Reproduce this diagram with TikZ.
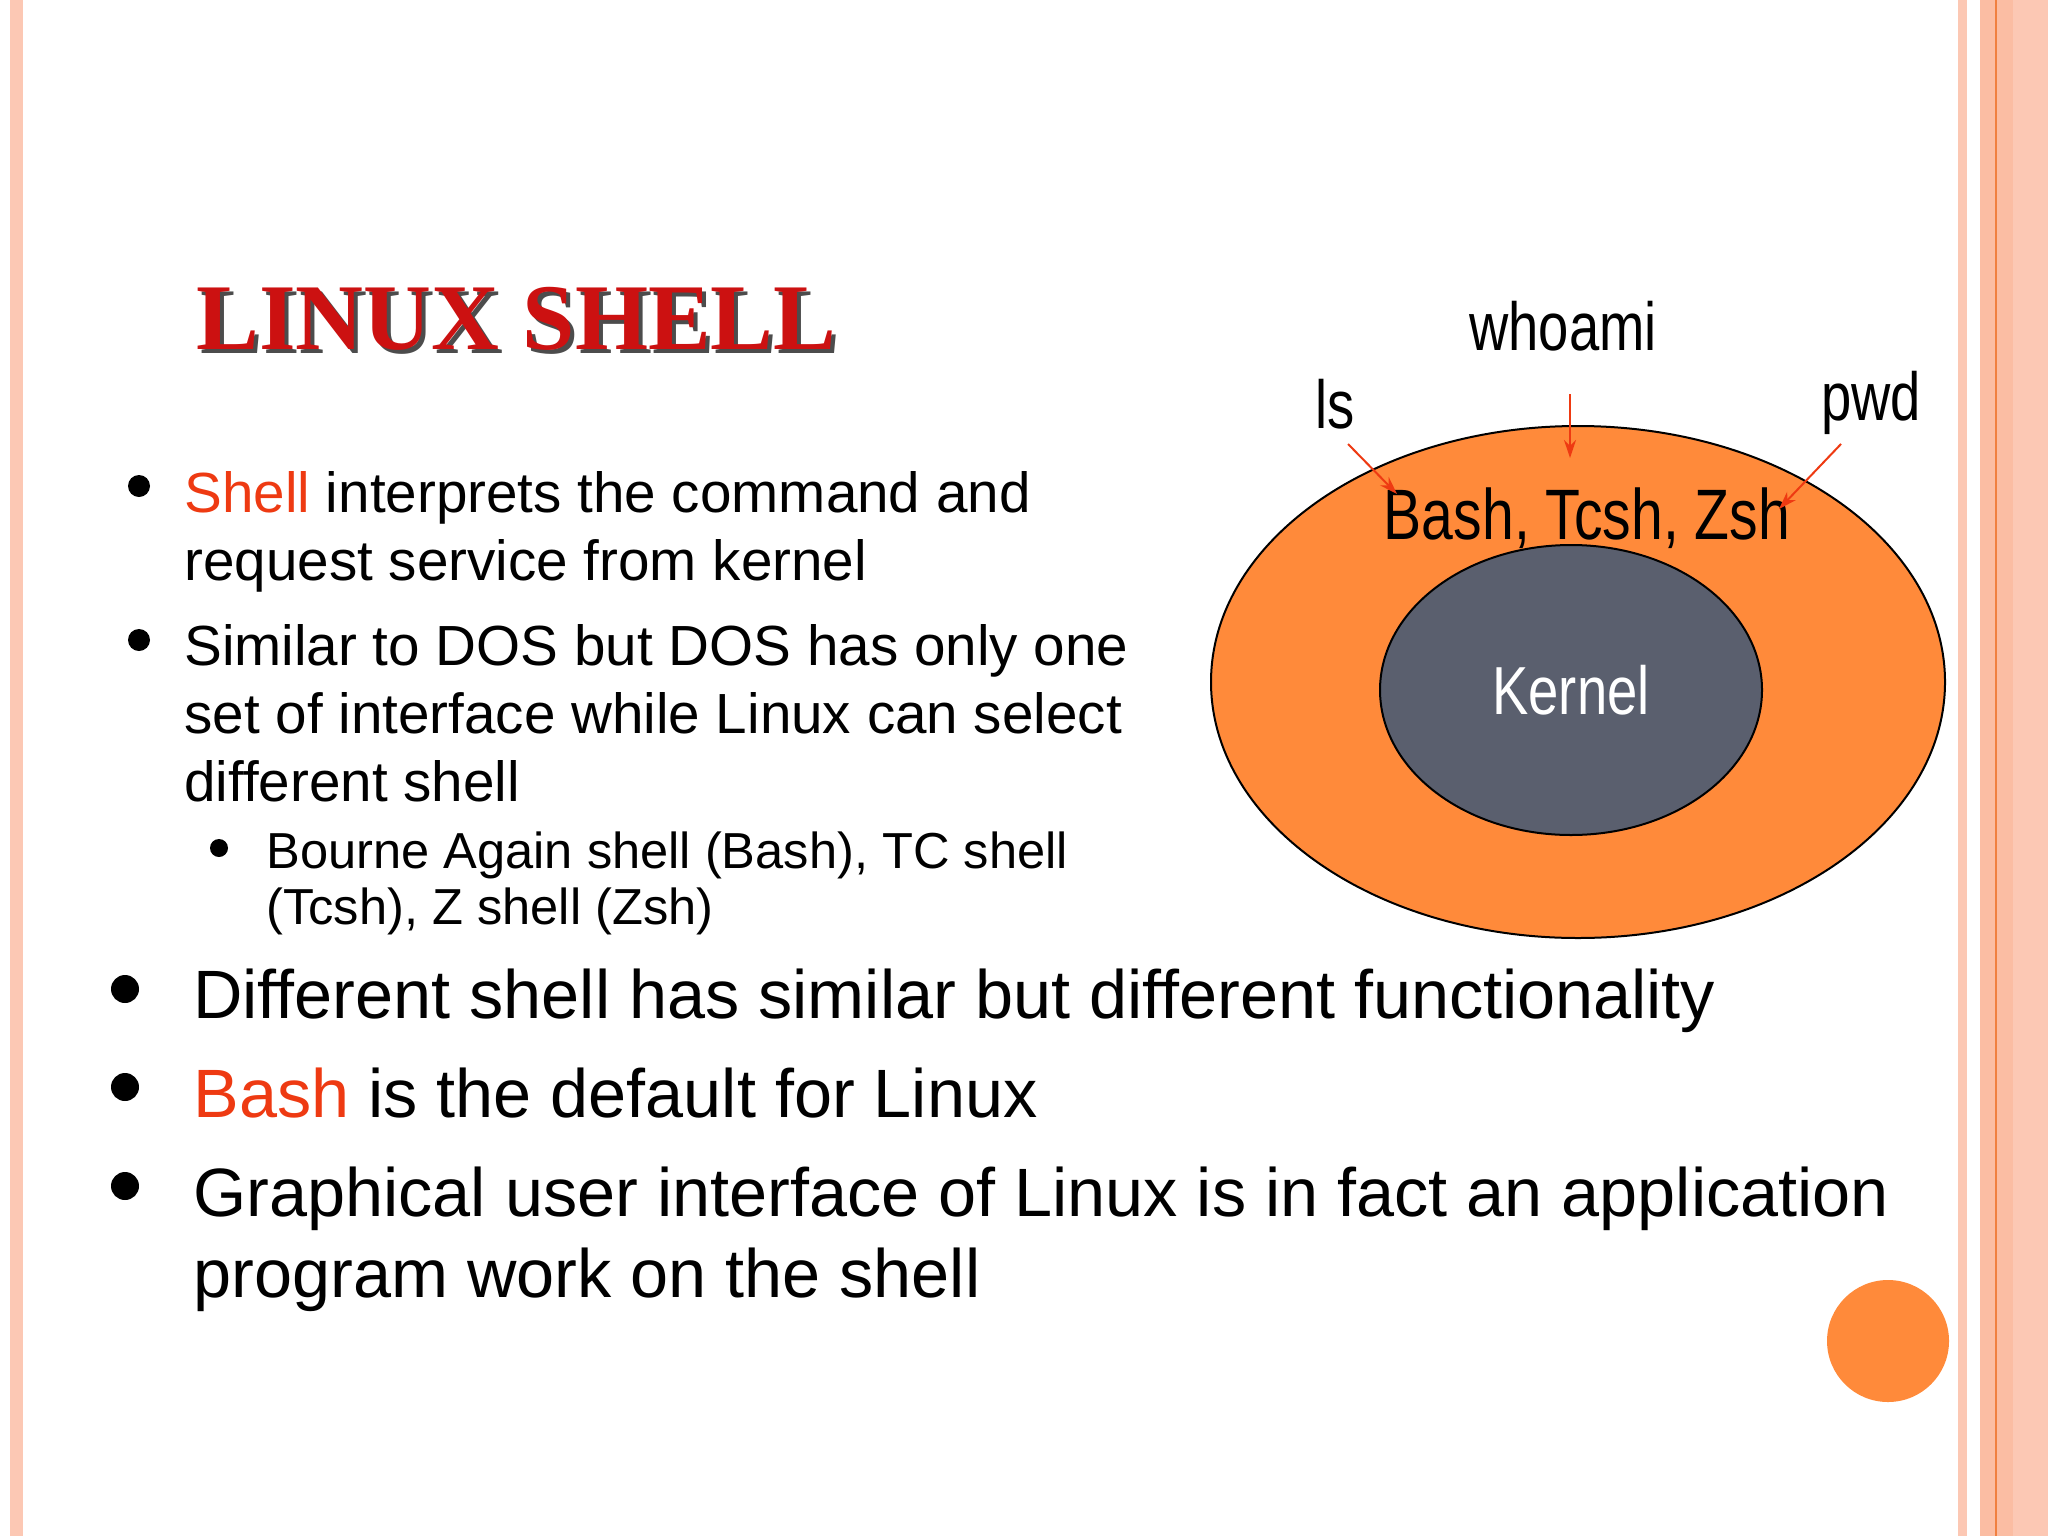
\documentclass[tikz,border=0pt]{standalone}
\usetikzlibrary{shapes.geometric,arrows.meta}
\usepackage{fontspec}
\setmainfont{Liberation Sans}
\newfontfamily\titlefont{Liberation Serif}
\newfontfamily\narrow[FakeStretch=0.8]{Liberation Sans}
\definecolor{pale}{HTML}{FCC8B4}
\definecolor{palemid}{HTML}{FBBDA3}
\definecolor{oline}{HTML}{F08040}
\definecolor{shellor}{HTML}{FF8A3A}
\definecolor{kern}{HTML}{5A5F6E}
\definecolor{redt}{HTML}{EE3A12}
\definecolor{titred}{HTML}{CC1111}
\begin{document}
\begin{tikzpicture}[x=0.5pt,y=-0.5pt,
  body/.style={anchor=base west,inner sep=0,font=\fontsize{28.3pt}{34pt}\selectfont},
  big/.style={anchor=base west,inner sep=0,font=\fontsize{34.2pt}{40pt}\selectfont},
  sub/.style={anchor=base west,inner sep=0,font=\fontsize{25.3pt}{28pt}\selectfont},
  cmd/.style={anchor=base,inner sep=0,font=\narrow\fontsize{34pt}{40pt}\selectfont},
  arr/.style={draw=redt,line width=1pt,-{Stealth[length=9pt,width=6pt]}}]
\useasboundingbox (0,0) rectangle (2048,1536);
\fill[white] (0,0) rectangle (2048,1536);
% borders
\fill[pale] (10,0) rectangle (23,1536);
\fill[pale] (1958,0) rectangle (1967,1536);
\fill[pale] (1980,0) rectangle (2048,1536);
\fill[palemid] (1980,0) rectangle (2013,1536);
\fill[oline] (1995,0) rectangle (1997,1536);
% title
\node[anchor=base west,inner sep=0,text=black!70,font=\titlefont\bfseries\fontsize{47pt}{52pt}\selectfont] at (200,353) {LINUX SHELL};
\node[anchor=base west,inner sep=0,text=titred,font=\titlefont\bfseries\fontsize{47pt}{52pt}\selectfont] (title) at (196,349) {LINUX SHELL};
% diagram
\node[ellipse,draw=black,line width=1pt,fill=shellor,minimum width=367pt,minimum height=256pt,inner sep=0] (outer) at (1578,682) {};
\node[ellipse,draw=black,line width=1pt,fill=kern,minimum width=191pt,minimum height=145pt,inner sep=0,text=white,font=\narrow\fontsize{34pt}{40pt}\selectfont] (kernel) at (1571,690) {Kernel};
\node[cmd,font=\narrow\fontsize{35.7pt}{40pt}\selectfont] (shells) at (1587,539) {Bash, Tcsh, Zsh};
\node[cmd] (whoami) at (1563,350) {whoami};
\node[cmd] (ls) at (1335,428) {ls};
\node[cmd] (pwd) at (1871,420) {pwd};
\coordinate (w1) at (1570,394); \coordinate (w2) at (1570,458);
\coordinate (l1) at (1348,444); \coordinate (l2) at (1397,494);
\coordinate (p1) at (1841,444); \coordinate (p2) at (1779,509);
\draw[arr] (w1) -- (w2);
\draw[arr] (l1) -- (l2);
\draw[arr] (p1) -- (p2);
% bullets
\foreach \y in {486,640} \fill (139,\y) circle (11);
\fill (219,848) circle (9);
\foreach \y in {989,1087,1186} \fill (125,\y) circle (14);
\node[body] (b1a) at (184,512) {\textcolor{redt}{Shell} interprets the command and};
\node[body] (b1b) at (184,580) {request service from kernel};
\node[body] (b2a) at (184,665) {Similar to DOS but DOS has only one};
\node[body] (b2b) at (184,733) {set of interface while Linux can select};
\node[body] (b2c) at (184,801) {different shell};
\node[sub] (s1a) at (266,868) {Bourne Again shell (Bash), TC shell};
\node[sub] (s1b) at (266,924) {(Tcsh), Z shell (Zsh)};
\node[big] (c1) at (193,1018) {Different shell has similar but different functionality};
\node[big] (c2) at (193,1117) {\textcolor{redt}{Bash} is the default for Linux};
\node[big] (c3) at (193,1216) {Graphical user interface of Linux is in fact an application};
\node[big] (c4) at (193,1297) {program work on the shell};
\fill[shellor] (1888,1341) circle (61);
\end{tikzpicture}
\end{document}
